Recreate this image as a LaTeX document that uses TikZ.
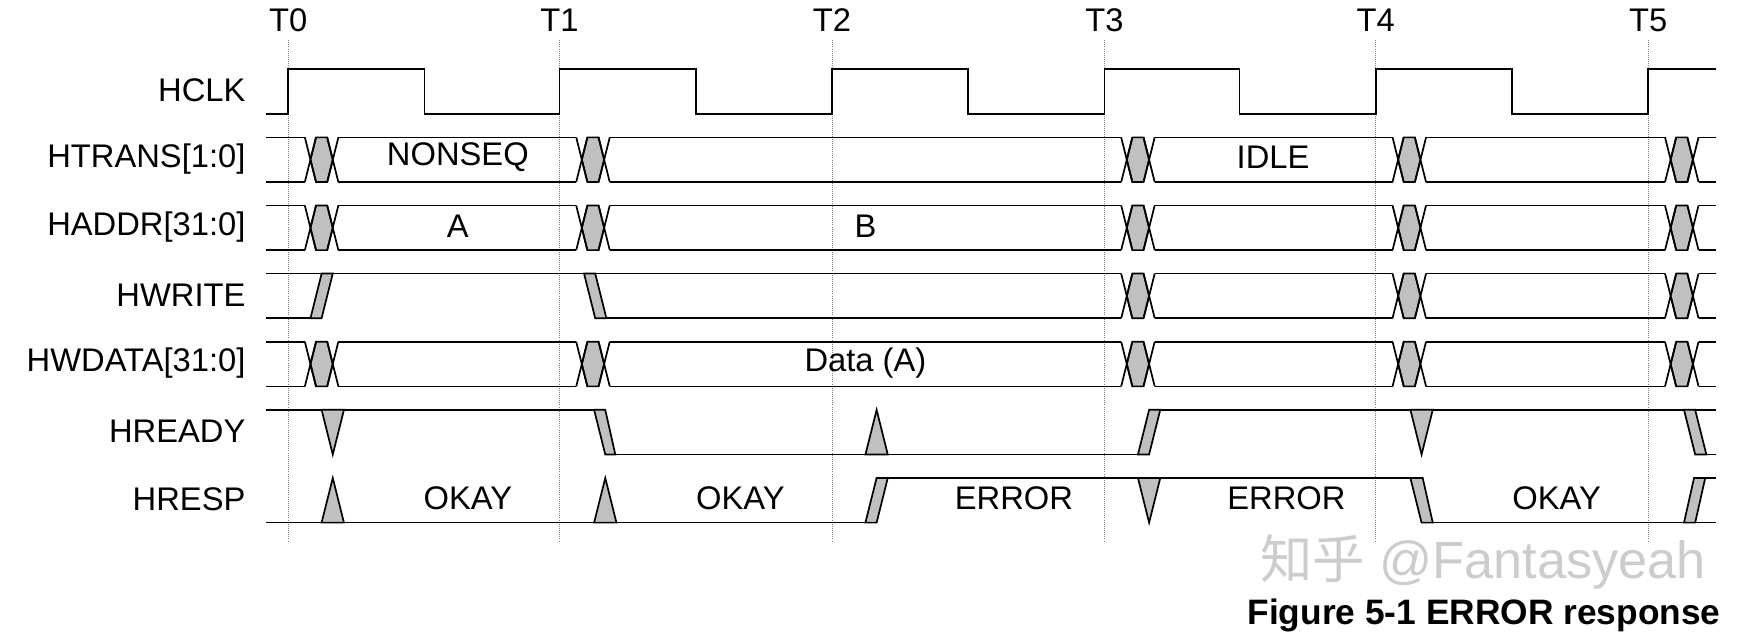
\documentclass[tikz,border=0pt]{standalone}
\usepackage{fontspec}
\setmainfont{Liberation Sans}
\newfontfamily\cjk{Noto Sans CJK SC}
\definecolor{gfill}{HTML}{C0C0C0}
\newcommand\xcross[3]{%
  \filldraw[wave,fill=gfill] ({#1-10},{(#2+#3)/2})--({#1-5},#2)--({#1+5},#2)--({#1+10},{(#2+#3)/2})--({#1+5},#3)--({#1-5},#3)--cycle;
  \draw[wave] ({#1-15},#2)--({#1-5},#3) ({#1-15},#3)--({#1-5},#2) ({#1+5},#2)--({#1+15},#3) ({#1+5},#3)--({#1+15},#2);}
\newcommand\tri[3]{% x center, base y, tip y
  \filldraw[wave,fill=gfill] ({#1-10},#2)--({#1+10},#2)--(#1,#3)--cycle;}
\begin{document}
\begin{tikzpicture}[x=0.03cm,y=-0.03cm,
  wave/.style={line width=1.3pt,line join=miter},
  lab/.style={font=\fontsize{25}{28}\selectfont,inner sep=0pt},
  grid/.style={gray,densely dotted,line width=0.6pt}]
\useasboundingbox (0,0) rectangle (1568,573);
% time markers
\foreach \t/\x in {0/258,1/501,2/745,3/989,4/1232,5/1476}{
  \node[lab] (T\t) at (\x,18) {T\t};
  \draw[grid] (\x,36) -- (\x,485);}
% names
\foreach \n/\s/\y in {hclk/HCLK/81,htrans/HTRANS[1:0]/142,haddr/HADDR[31:0]/203,hwrite/HWRITE/264,hwdata/HWDATA[31:0]/325,hready/HREADY/386,hresp/HRESP/447}
  \node[lab,anchor=east] (\n) at (220,\y) {\s};
% clock
\draw[wave] (238,102)--(258,102)--(258,62)--(380,62)--(380,102)--(501,102)--(501,62)--(623,62)--(623,102)--(745,102)--(745,62)--(867,62)--(867,102)--(989,102)--(989,62)--(1110,62)--(1110,102)--(1232,102)--(1232,62)--(1354,62)--(1354,102)--(1476,102)--(1476,62)--(1537,62);
% bus rows
\foreach \t/\b in {123/163,184/224,306/346}{
  \foreach \u/\v in {238/273,303/516,546/1004,1034/1247,1277/1491,1521/1537}
    \draw[wave] (\u,\t)--(\v,\t) (\u,\b)--(\v,\b);
  \foreach \c in {288,531,1019,1262,1506} \xcross{\c}{\t}{\b};
}
% HWRITE
\foreach \u/\v in {238/1004,1034/1247,1277/1491,1521/1537} \draw[wave] (\u,245)--(\v,245);
\foreach \u/\v in {238/278,543/1004,1034/1247,1277/1491,1521/1537} \draw[wave] (\u,285)--(\v,285);
\foreach \c in {1019,1262,1506} \xcross{\c}{245}{285};
\filldraw[wave,fill=gfill] (278,285)--(288,285)--(298,245)--(288,245)--cycle;
\filldraw[wave,fill=gfill] (523,245)--(533,245)--(543,285)--(533,285)--cycle;
% HREADY
\draw[wave] (238,367)--(532,367);
\draw[wave] (542,407)--(1019,407);
\draw[wave] (1039,367)--(1537,367);
\draw[wave] (1528,407)--(1537,407);
\filldraw[wave,fill=gfill] (532,367)--(542,367)--(551,407)--(542,407)--cycle;
\filldraw[wave,fill=gfill] (1019,407)--(1029,407)--(1039,367)--(1029,367)--cycle;
\filldraw[wave,fill=gfill] (1508,367)--(1518,367)--(1528,407)--(1518,407)--cycle;
\tri{298}{367}{407}
\tri{785}{407}{367}
\tri{1273}{367}{407}
% HRESP
\draw[wave] (238,468)--(775,468);
\draw[wave] (795,428)--(1263,428);
\draw[wave] (1283,468)--(1537,468);
\draw[wave] (1527,428)--(1537,428);
\filldraw[wave,fill=gfill] (775,468)--(785,468)--(795,428)--(785,428)--cycle;
\filldraw[wave,fill=gfill] (1263,428)--(1274,428)--(1283,468)--(1273,468)--cycle;
\filldraw[wave,fill=gfill] (1508,468)--(1518,468)--(1527,428)--(1517,428)--cycle;
\tri{298}{468}{428}
\tri{542}{468}{428}
\tri{1029}{428}{468}
% values
\node[lab] (v1) at (410,141) {NONSEQ};
\node[lab] (v2) at (1140,141) {IDLE};
\node[lab] (v3) at (410,203) {A};
\node[lab] (v4) at (775,203) {B};
\node[lab] (v5) at (775,325) {Data (A)};
\node[lab] (v6) at (419,446) {OKAY};
\node[lab] (v7) at (663,446) {OKAY};
\node[lab] (v8) at (908,446) {ERROR};
\node[lab] (v9) at (1152,446) {ERROR};
\node[lab] (v10) at (1394,446) {OKAY};
% watermark & caption
\node[inner sep=0pt,anchor=east,text=black!20,font=\fontsize{40}{44}\selectfont] (wm) at (1528,503) {{\cjk 知乎} @Fantasyeah};
\node[inner sep=0pt,anchor=east,font=\fontsize{27}{30}\selectfont\bfseries] (cap) at (1541,551) {Figure 5-1 ERROR response};
\end{tikzpicture}
\end{document}
